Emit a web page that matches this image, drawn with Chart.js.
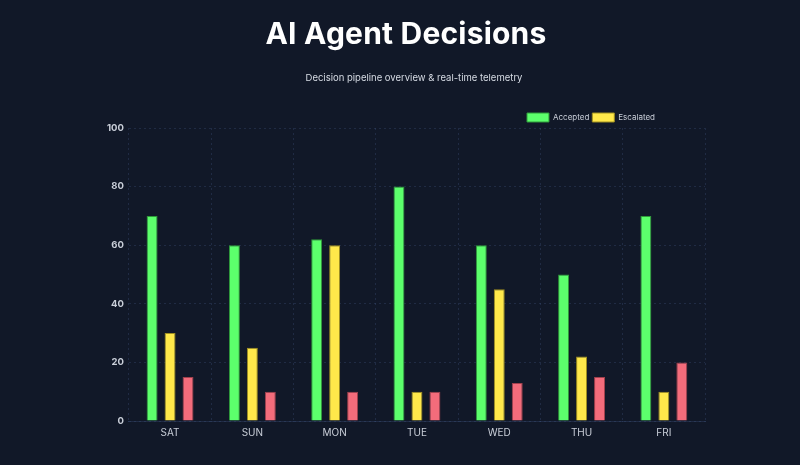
<!DOCTYPE html>
<html lang="en">
<head>
    <meta charset="UTF-8">
    <title>AI Agent Decisions</title>
    <script src="https://cdn.jsdelivr.net/npm/chart.js"></script>
    <style>
        html, body { margin: 0; padding: 0; background: #111828; }
        #wrap { position: relative; width: 800px; height: 465px; }
        h1 {
            position: absolute; left: 0; top: 15px; width: 800px; margin: 0;
            padding-left: 12px; box-sizing: border-box;
            text-align: center; color: #fff;
            font: bold 30px Inter, sans-serif; letter-spacing: 0.2px;
        }
        p.sub {
            position: absolute; left: 0; top: 72px; width: 800px; margin: 0;
            padding-left: 28px; box-sizing: border-box;
            text-align: center; color: #d6dbe4;
            font: 9.5px Inter, sans-serif;
        }
    </style>
</head>
<body>
    <div id="wrap">
        <canvas id="myChart"></canvas>
        <h1>AI Agent Decisions</h1>
        <p class="sub">Decision pipeline overview &amp; real-time telemetry</p>
    </div>

    <script>
        const days = ['SAT', 'SUN', 'MON', 'TUE', 'WED', 'THU', 'FRI'];
        const accepted = [70, 60, 62, 80, 60, 50, 70];
        const escalated = [30, 25, 60, 10, 45, 22, 10];
        const rejected = [15, 10, 10, 10, 13, 15, 20];

        const gridColor = 'rgba(60, 80, 120, 0.35)';
        const tickColor = '#c9ced8';

        // legend sits a bit in from the right edge of the plot, close above it
        const legendShift = {
            id: 'legendShift',
            afterLayout(chart) {
                chart.legend.right -= 47;
                chart.legend.top += 4;
                chart.legend.bottom += 4;
            }
        };

        const ctx = document.getElementById('myChart').getContext('2d');
        new Chart(ctx, {
            type: 'bar',
            data: {
                labels: days,
                datasets: [{
                    label: 'Accepted',
                    data: accepted,
                    backgroundColor: '#5cff6c',
                    borderColor: '#2f9a3a',
                    borderWidth: 1
                }, {
                    label: 'Escalated',
                    data: escalated,
                    backgroundColor: '#ffe84a',
                    borderColor: '#a08f20',
                    borderWidth: 1
                }, {
                    label: 'Rejected',
                    data: rejected,
                    backgroundColor: '#f36c7b',
                    borderColor: '#a0404c',
                    borderWidth: 1
                }]
            },
            plugins: [legendShift],
            options: {
                responsive: true,
                maintainAspectRatio: false,
                animation: false,
                datasets: {
                    bar: { categoryPercentage: 0.655, barPercentage: 0.61 }
                },
                layout: { padding: { left: 102, right: 95, top: 106, bottom: 20 } },
                plugins: {
                    legend: {
                        position: 'top',
                        align: 'end',
                        labels: {
                            color: '#c9ced8',
                            boxWidth: 22,
                            boxHeight: 9,
                            padding: 3,
                            font: { family: 'Inter', size: 8 },
                            filter: item => item.text !== 'Rejected'
                        }
                    },
                    tooltip: { enabled: false }
                },
                scales: {
                    x: {
                        grid: { color: gridColor, offset: true, tickLength: 0 },
                        border: { color: gridColor, dash: [2, 3] },
                        ticks: { color: tickColor, font: { family: 'Inter', size: 10 }, padding: 6 }
                    },
                    y: {
                        min: 0,
                        max: 100,
                        grid: { color: gridColor, tickLength: 0 },
                        border: { display: false, dash: [2, 3] },
                        ticks: { stepSize: 20, color: tickColor, font: { family: 'Inter', size: 9.5, weight: 'bold' }, padding: 5 }
                    }
                }
            }
        });
    </script>
</body>
</html>
